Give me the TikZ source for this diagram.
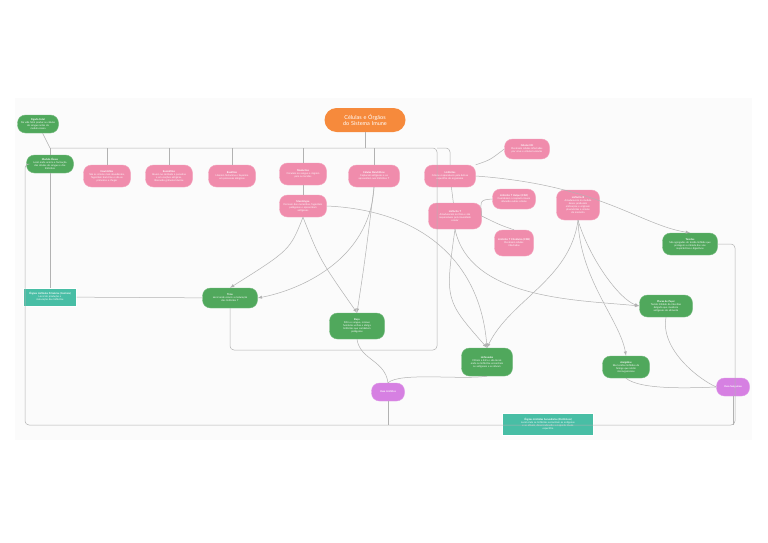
\documentclass[tikz,border=0pt]{standalone}
\usepackage{fontspec}
\setmainfont{Lato}
\newcommand{\tb}[2]{\textbf{#1}\\#2}
\definecolor{pk}{RGB}{240,140,172}
\definecolor{gr}{RGB}{80,168,92}
\definecolor{pu}{RGB}{214,128,226}
\definecolor{tl}{RGB}{72,190,165}
\definecolor{og}{RGB}{246,138,60}
\begin{document}
\begin{tikzpicture}[x=1pt,y=-1pt,
base/.style={rounded corners=8pt,minimum height=18pt,text=white,align=center,font=\fontsize{2.5}{3}\selectfont,inner sep=1.5pt},
pink/.style={base,fill=pk,draw=pk!80!white,line width=0.4pt},
grn/.style={base,fill=gr,draw=gr!80!white,line width=0.4pt},
pur/.style={base,fill=pu,draw=pu!80!white,line width=0.4pt},
teal/.style={base,rounded corners=0pt,fill=tl,draw=white},
ln/.style={draw=gray!60,line width=0.5pt},
arr/.style={ln,-latex}]
\useasboundingbox (0,0) rectangle (768,543);
\fill[gray!3] (15,98) rectangle (752,440);
\node[base,fill=og,text width=78pt,minimum height=24pt,font=\fontsize{5.5}{6.5}\selectfont,rounded corners=12pt] (title) at (365,120) {Células e Órgãos do Sistema Imune};
\node[grn,text width=38pt] (ff) at (38,124) {\tb{Fígado Fetal}{Na vida fetal produz as células\\ do sangue antes da\\ medula óssea}};
\node[grn,text width=44pt] (mo) at (50,164) {\tb{Medula Óssea}{Local onde ocorre a formação\\ das células do sangue e dos\\ linfócitos}};
\node[pink,text width=44pt,minimum height=22pt] (neu) at (107,176) {\tb{Neutrófilos}{São as células mais abundantes,\\ fagocitam bactérias e são os\\ primeiros a chegar}};
\node[pink,text width=44pt,minimum height=22pt] (eos) at (169,176) {\tb{Eosinófilos}{Atuam no combate a parasitas\\ e em reações alérgicas,\\ liberando grânulos tóxicos}};
\node[pink,text width=44pt,minimum height=22pt] (bas) at (232,176) {\tb{Basófilos}{Liberam histamina e heparina\\ em processos alérgicos}};
\node[pink,text width=44pt,minimum height=22pt] (mon) at (303,174) {\tb{Monócitos}{Circulam no sangue e migram\\ para os tecidos}};
\node[pink,text width=48pt,minimum height=22pt] (cd) at (374,176) {\tb{Células Dendríticas}{Capturam antígenos e os\\ apresentam aos linfócitos T}};
\node[pink,text width=48pt,minimum height=22pt] (lin) at (450,176) {\tb{Linfócitos}{Células responsáveis pela defesa\\ específica do organismo}};
\node[pink,text width=44pt,minimum height=22pt] (mac) at (303,206) {\tb{Macrófagos}{Derivam dos monócitos, fagocitam\\ patógenos e apresentam\\ antígenos}};
\node[pink,text width=42pt,minimum height=20pt] (nk) at (527,149) {\tb{Células NK}{Destroem células infectadas\\ por vírus e células tumorais}};
\node[pink,text width=40pt,minimum height=20pt] (th) at (514,199) {\tb{Linfócito T Helper (CD4)}{Coordenam a resposta imune\\ ativando outras células}};
\node[pink,text width=50pt,minimum height=26pt] (lt) at (455,216) {\tb{Linfócito T}{Amadurecem no timo e são\\ responsáveis pela imunidade\\ celular}};
\node[pink,text width=36pt,minimum height=26pt] (tc) at (514,243) {\tb{Linfócito T Citotóxico (CD8)}{Destroem células\\ infectadas}};
\node[pink,text width=40pt,minimum height=30pt] (lb) at (578,205) {\tb{Linfócito B}{Amadurecem na medula\\ óssea, produzem\\ anticorpos e originam\\ plasmócitos e células\\ de memória}};
\node[grn,text width=52pt,minimum height=22pt] (ton) at (690,244) {\tb{Tonsilas}{São agregados de tecido linfóide que\\ protegem a entrada das vias\\ respiratórias e digestivas}};
\node[grn,text width=50pt,minimum height=22pt] (pp) at (666,306) {\tb{Placas de Peyer}{Tecido linfóide do intestino\\ delgado que monitora\\ antígenos do alimento}};
\node[grn,text width=44pt,minimum height=22pt] (am) at (626,367) {\tb{Amígdalas}{São tecidos linfóides da\\ faringe que retêm\\ microrganismos}};
\node[grn,text width=52pt,minimum height=20pt] (timo) at (230,298) {\tb{Timo}{Local onde ocorre a maturação\\ dos linfócitos T}};
\node[grn,text width=52pt,minimum height=26pt] (baco) at (357,326) {\tb{Baço}{Filtra o sangue, remove\\ hemácias velhas e abriga\\ linfócitos que combatem\\ patógenos}};
\node[grn,text width=48pt,minimum height=28pt] (lnf) at (487,362) {\tb{Linfonodos}{Filtram a linfa e são locais\\ onde os linfócitos encontram\\ os antígenos e se ativam}};
\node[pur,text width=30pt] (vl) at (388,392) {\textbf{Vaso Linfático}};
\node[pur,text width=30pt] (vs) at (733,387) {\textbf{Vaso Sanguíneo}};
\node[teal,text width=50pt] (op) at (50,297) {\tb{Órgãos Linfóides Primários (Centrais)}{Local de produção e\\ maturação dos linfócitos}};
\node[teal,text width=88pt,minimum height=22pt] (os) at (548,424) {\tb{Órgãos Linfóides Secundários (Periféricos)}{Local onde os linfócitos encontram os antígenos\\ e se ativam, desencadeando a resposta imune\\ específica}};
% bus
\draw[ln] (ff) -- (50,148);
\draw[ln] (title) -- (365,148);
\draw[ln,rounded corners=4pt] (50,148) -- (437,148) -- (437,350) -- (230,350) -- (timo.south);
\draw[ln] (mo) -- (50,148);
\foreach \n in {neu,eos,bas,mon,cd} \draw[ln] (\n.north) -- (\n.north|-0,148);
\draw[ln,rounded corners=4pt] (437,148) -- (450,148) -- (lin.north);
\draw[ln] (mon) -- (mac);
\draw[ln] (mo) -- (op);
\draw[ln] (op) -- (timo);
\draw[ln,rounded corners=4pt] (mo.west) -- (25,164) -- (25,425) -- (735,425) -- (735,244) -- (ton.east);
\draw[ln] (vl) -- (388,425);
\draw[ln] (vs) -- (733,425);
% curves
\draw[arr] (mac.south) .. controls (290,250) .. (timo.north);
\draw[arr] (mac.south) .. controls (320,260) .. (baco.north);
\draw[arr] (mac.east) .. controls (420,210) and (480,260) .. (lnf.north);
\draw[arr] (cd.south) .. controls (370,260) and (300,290) .. (timo.east);
\draw[arr] (cd.south) .. controls (365,260) .. (baco.north);
\draw[ln] (lin.north east) .. controls (490,160) .. (nk.west);
\draw[ln] (lin) -- (lt);
\draw[arr] (lin.east) .. controls (600,185) and (640,225) .. (ton.north);
\draw[ln] (lt.east) .. controls (480,200) .. (th.west);
\draw[ln] (lt.east) .. controls (500,225) .. (tc.north);
\draw[arr] (lt.south) .. controls (445,300) .. (lnf.north);
\draw[arr] (lt.south) .. controls (470,300) and (580,300) .. (pp.west);
\draw[arr] (lb.south) .. controls (570,280) and (510,300) .. (lnf.north);
\draw[arr] (lb.south) .. controls (580,280) and (620,320) .. (am.north);
\draw[arr] (lb.south) .. controls (590,260) and (620,300) .. (pp.west);
\draw[ln] (baco.south) .. controls (360,360) and (385,360) .. (vl.north);
\draw[ln] (lnf.south) .. controls (460,380) and (400,372) .. (vl.north);
\draw[ln] (pp.south) .. controls (660,350) and (700,380) .. (vs.west);
\draw[ln] (am.south) .. controls (640,390) and (690,388) .. (vs.west);
\end{tikzpicture}
\end{document}
